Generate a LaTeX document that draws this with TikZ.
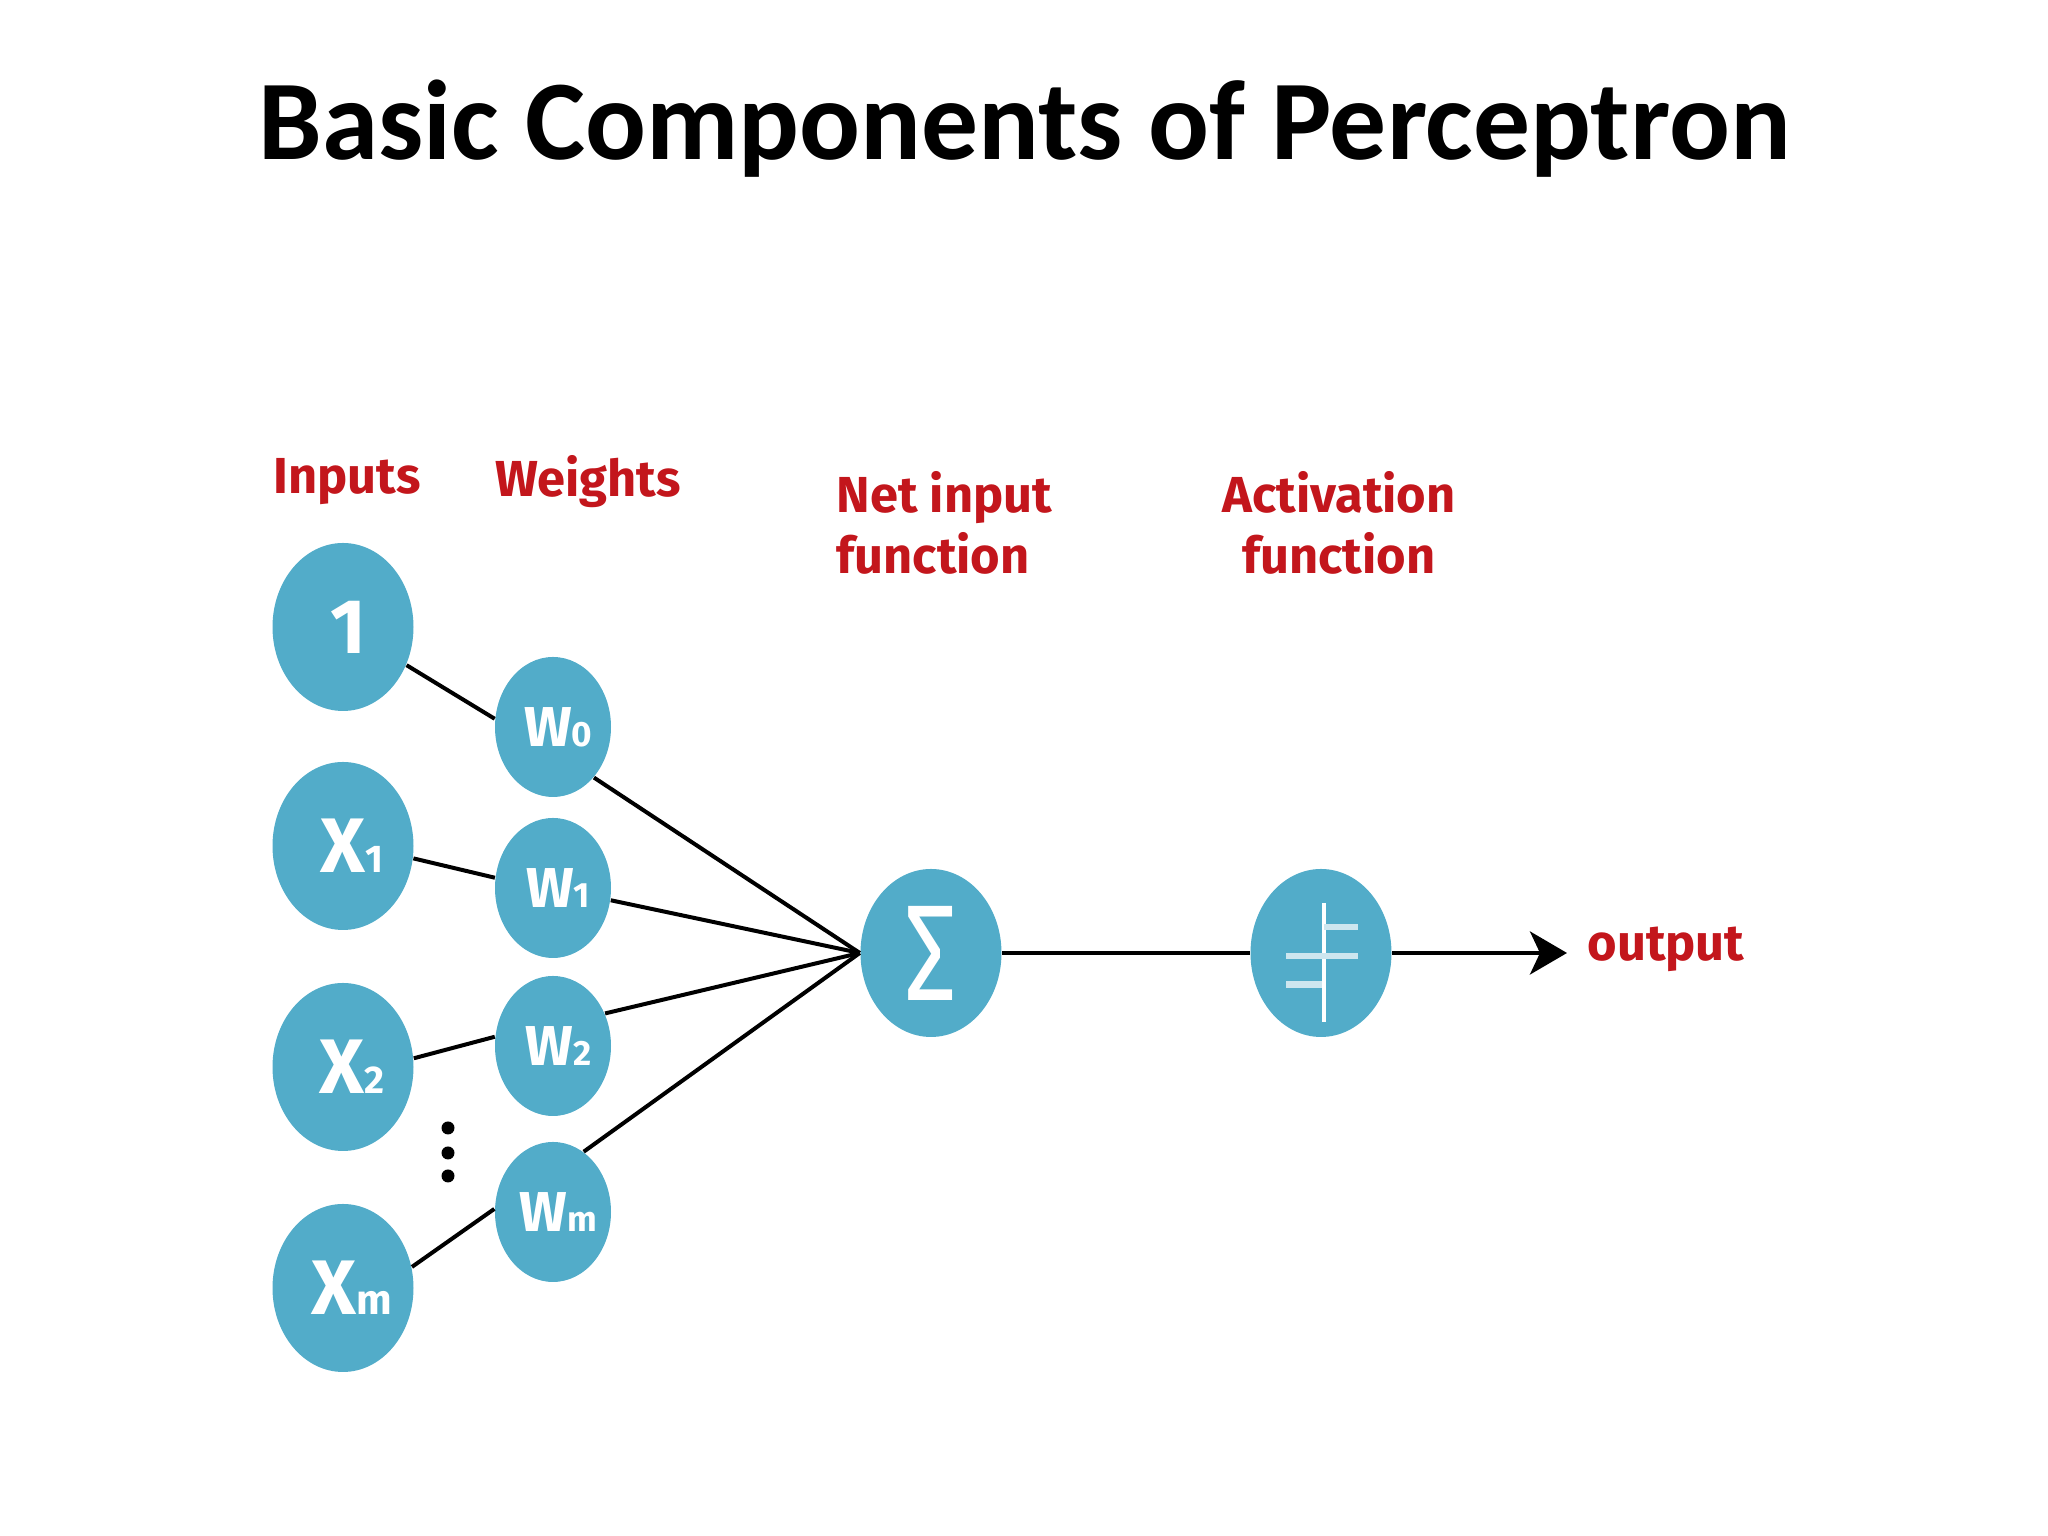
\documentclass[tikz,border=0pt]{standalone}
\usepackage{fontspec}
\usepackage{graphicx}
\usetikzlibrary{arrows.meta, shapes.geometric}
\setmainfont{Carlito}
\newfontfamily\labelfont{Fira Sans}
\definecolor{node}{HTML}{52ACC9}
\definecolor{labelred}{HTML}{C3161C}
\definecolor{barlight}{HTML}{CDE6EF}

\tikzset{
  bignode/.style={ellipse, fill=node, text=white, inner sep=0pt, minimum width=1.41cm, minimum height=1.68cm, font=\labelfont\fontsize{22}{25}\selectfont\bfseries},
  smallnode/.style={ellipse, fill=node, text=white, inner sep=0pt, minimum width=1.16cm, minimum height=1.40cm, font=\labelfont\fontsize{16}{18}\selectfont\bfseries},
  heading/.style={text=labelred, inner sep=0pt, font=\labelfont\fontsize{14.4}{17.5}\selectfont\bfseries},
  wire/.style={draw=black, line width=0.04cm}
}

\begin{document}
\begin{tikzpicture}
  \useasboundingbox (0,0) rectangle (20.48,15.36);

  % Title
  \node[font=\fontsize{32.3}{38}\selectfont\bfseries] (title) at (10.25,14.07) {Basic Components of Perceptron};

  % Headings
  \node[heading] (lblin) at (3.47,10.54) {Inputs};
  \node[heading] (lblw) at (5.88,10.54) {Weights};
  \node[heading, align=left, anchor=west] (lblnet) at (8.36,10.13) {Net input\\function};
  \node[heading, align=center] (lblact) at (13.39,10.13) {Activation\\function};
  \node[heading, anchor=west] (lblout) at (15.87,5.87) {output};

  % Inputs
  \node[bignode] (in0) at (3.43,9.09) {\kern3pt 1};
  \node[bignode] (in1) at (3.43,6.90) {\kern5pt X{\fontsize{11}{12}\selectfont 1}};
  \node[bignode] (in2) at (3.43,4.69) {\kern5pt X{\fontsize{11}{12}\selectfont 2}};
  \node[bignode] (in3) at (3.43,2.48) {\makebox[0pt]{\kern5pt X{\fontsize{12}{12}\selectfont m}}};

  % Weights
  \node[smallnode] (w0) at (5.53,8.09) {\kern3pt W{\fontsize{10}{12}\selectfont 0}};
  \node[smallnode] (w1) at (5.53,6.48) {\kern3pt W{\fontsize{10}{12}\selectfont 1}};
  \node[smallnode] (w2) at (5.53,4.90) {\kern3pt W{\fontsize{10}{12}\selectfont 2}};
  \node[smallnode] (w3) at (5.53,3.24) {\makebox[0pt]{\kern3pt W{\fontsize{10}{12}\selectfont m}}};

  % Sum and activation
  \node[bignode, font=\labelfont\fontsize{36}{38}\selectfont] (sum) at (9.31,5.83) {\scalebox{0.82}[1.08]{Σ}};
  \node[bignode] (act) at (13.21,5.83) {};
  \coordinate (outend) at (15.67,5.83);

  % Step glyph
  \draw[white, line width=0.04cm] ([xshift=0.03cm, yshift=0.50cm]act.center) -- ([xshift=0.03cm, yshift=-0.69cm]act.center);
  \draw[barlight, line width=0.06cm] ([xshift=0.03cm, yshift=0.26cm]act.center) -- ([xshift=0.37cm, yshift=0.26cm]act.center);
  \draw[barlight, line width=0.06cm] ([xshift=-0.35cm, yshift=-0.03cm]act.center) -- ([xshift=0.37cm, yshift=-0.03cm]act.center);
  \draw[barlight, line width=0.07cm] ([xshift=-0.35cm, yshift=-0.32cm]act.center) -- ([xshift=0.01cm, yshift=-0.32cm]act.center);

  % Connectors
  \foreach \a/\b/\c/\d/\e in {in0/-31/w0/172/-51, in1/-10/w1/170/-12, in2/7/w2/171/32, in3/17/w3/177/63}{
    \draw[wire] (\a.\b) -- (\c.\d);
    \draw[wire] (\c.\e) -- (sum.west);
  }
  \draw[wire] (sum.east) -- (act.west);
  \draw[wire, -{Stealth[length=3.7mm, width=4.3mm, inset=1mm]}] (act.east) -- (outend);

  % Dots
  \foreach \y in {4.08,3.83,3.60}{
    \fill[black] (4.48,\y) circle (0.065);
  }
\end{tikzpicture}
\end{document}
